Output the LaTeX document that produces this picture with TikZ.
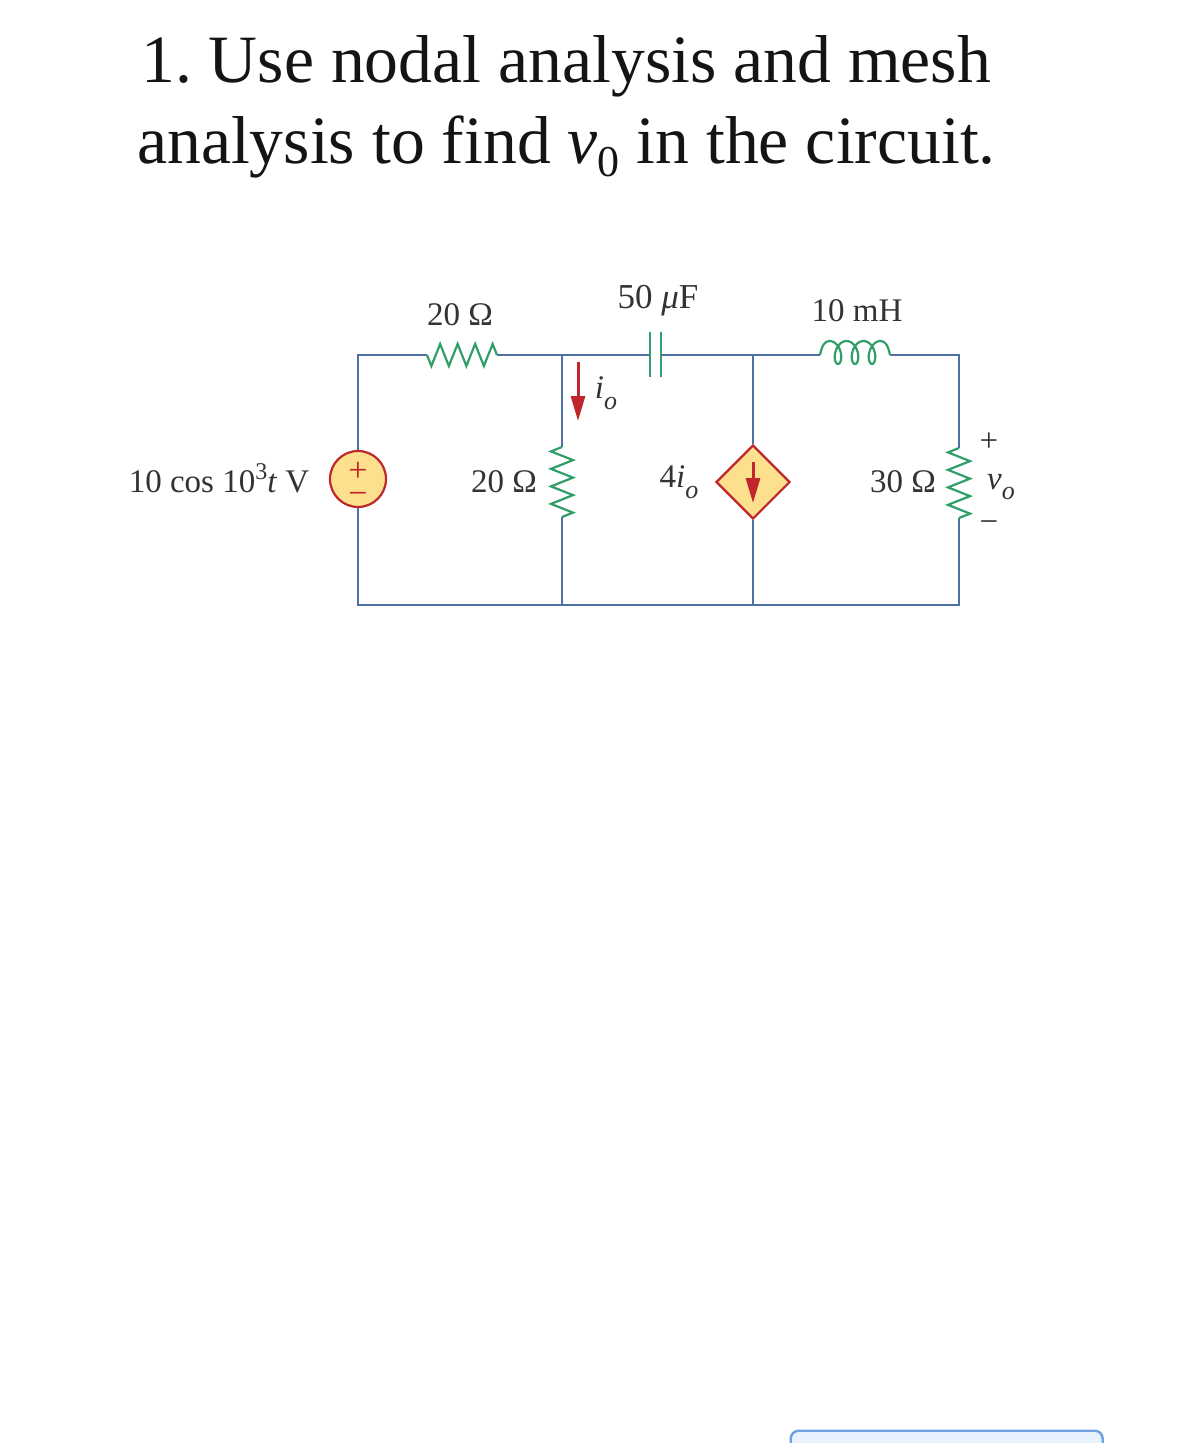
\documentclass[tikz,border=0pt]{standalone}
\usepackage{fontspec}
\setmainfont{Liberation Serif}
\usetikzlibrary{arrows.meta,shapes.geometric,decorations.pathmorphing}
\definecolor{wirecol}{HTML}{4F6FA5}
\definecolor{partcol}{HTML}{2F9E68}
\definecolor{redcol}{HTML}{C0272D}
\definecolor{fillcol}{HTML}{FDE08E}
\definecolor{boxcol}{HTML}{6FA0E0}
\definecolor{boxfill}{HTML}{E8F1FE}
\newcommand{\lowtext}[2]{#1\raisebox{-0.32em}{\fontsize{#2}{#2}\selectfont\itshape o}}
\frenchspacing
\begin{document}
\begin{tikzpicture}[
		x=1pt,
		y=-1pt,
		every node/.style={
			text=black!80,
			font=\fontsize{33}{36}\selectfont,
			inner sep=0pt,
		},
		titleline/.style={
			anchor=base west,
			text=black!92,
			font=\fontsize{67.7}{70}\selectfont,
		},
		wire/.style={
			draw=wirecol,
			line width=2.4pt,
		},
		part/.style={
			draw=partcol,
			line width=2.2pt,
		},
		resistor/.style={
			part,
			decorate,
			decoration={zigzag,segment length=17.5,amplitude=11,mirror},
		},
		source/.style={
			draw=redcol,
			fill=fillcol,
			line width=2.2pt,
		},
		flow/.style={
			draw=redcol,
			line width=3pt,
			-{Triangle[length=25pt,width=14pt]},
		},
		sign/.style={
			text=redcol,
			align=center,
			font=\fontsize{34}{23}\selectfont,
		},
	]
		\useasboundingbox (0,0) rectangle (1179,1443);
		\node[titleline] (line1) at (141,82) {1. Use nodal analysis and mesh};
		\node[titleline] (line2) at (137,163) {analysis to find \textit{v}\raisebox{-0.2em}{\fontsize{44}{44}\selectfont 0} in the circuit.};

		\coordinate (tl) at (358,355);
		\coordinate (tm) at (562,355);
		\coordinate (tn) at (753,355);
		\coordinate (tr) at (959,355);
		\coordinate (bl) at (358,605);
		\coordinate (bm) at (562,605);
		\coordinate (bn) at (753,605);
		\coordinate (br) at (959,605);
		\coordinate (r1a) at (427,355);
		\coordinate (r1b) at (497,355);
		\coordinate (c1a) at (650,355);
		\coordinate (c1b) at (661,355);
		\coordinate (l1a) at (820,355);
		\coordinate (l1b) at (890,355);
		\coordinate (r2a) at (562,447);
		\coordinate (r2b) at (562,517);
		\coordinate (r3a) at (959,448);
		\coordinate (r3b) at (959,518);
		\coordinate (io1) at (578,362);
		\coordinate (io2) at (578,421);

		\node[source,circle,minimum size=56pt] (vs) at (358,479) {};
		\node[source,diamond,minimum size=74pt] (dep) at (753,482) {};
		\node[sign] (vsign) at (358,483) {+\\−};
		\coordinate (dep1) at (753,462);
		\coordinate (dep2) at (753,503);

		\draw[wire] (vs) -- (tl) -- (r1a);
		\draw[wire] (r1b) -- (tm) -- (c1a);
		\draw[wire] (c1b) -- (tn) -- (l1a);
		\draw[wire] (l1b) -- (tr) -- (r3a);
		\draw[wire] (r3b) -- (br) -- (bn) -- (bm) -- (bl) -- (vs);
		\draw[wire] (tm) -- (r2a);
		\draw[wire] (r2b) -- (bm);
		\draw[wire] (tn) -- (dep);
		\draw[wire] (dep) -- (bn);

		\draw[resistor] (r1a) -- (r1b);
		\draw[resistor] (r2a) -- (r2b);
		\draw[resistor] (r3a) -- (r3b);
		\draw[part] (l1a) .. controls (822,345) and (825,341) .. (829.5,341)
			-- plot[domain=-540:540,samples=73,smooth] ({855+17*\x/360-7*sin(\x)},{352.5+11.5*cos(\x)})
			.. controls (885,341) and (888,345) .. (l1b);
		\draw[part] (650,332) -- (650,377);
		\draw[part] (661,332) -- (661,377);
		\draw[flow] (io1) -- (io2);
		\draw[flow] (dep1) -- (dep2);

		\node (lr1) at (460,315) {20 Ω};
		\node[font=\fontsize{35}{36}\selectfont] (lc1) at (658,301) {50 \textit{μ}F};
		\node (ll1) at (857,311) {10 mH};
		\node (lvs) at (219,478) {10 cos 10\raisebox{0.4em}{\fontsize{24}{24}\selectfont 3}\textit{t} V};
		\node (lr2) at (504,482) {20 Ω};
		\node (lr3) at (903,482) {30 Ω};
		\node (lio) at (606,393) {\textit{\lowtext{i}{26}}};
		\node (ldep) at (679,482) {4\textit{\lowtext{i}{26}}};
		\node (lvo) at (1001,487) {\textit{\lowtext{v}{26}}};
		\node (lvp) at (989,442) {+};
		\node (lvm) at (989,527) {−};

		\node[draw=boxcol,fill=boxfill,line width=2.4pt,rounded corners=8pt,minimum width=312pt,minimum height=40pt,anchor=north west] (box) at (789.5,1429.5) {};
	\end{tikzpicture}
\end{document}
